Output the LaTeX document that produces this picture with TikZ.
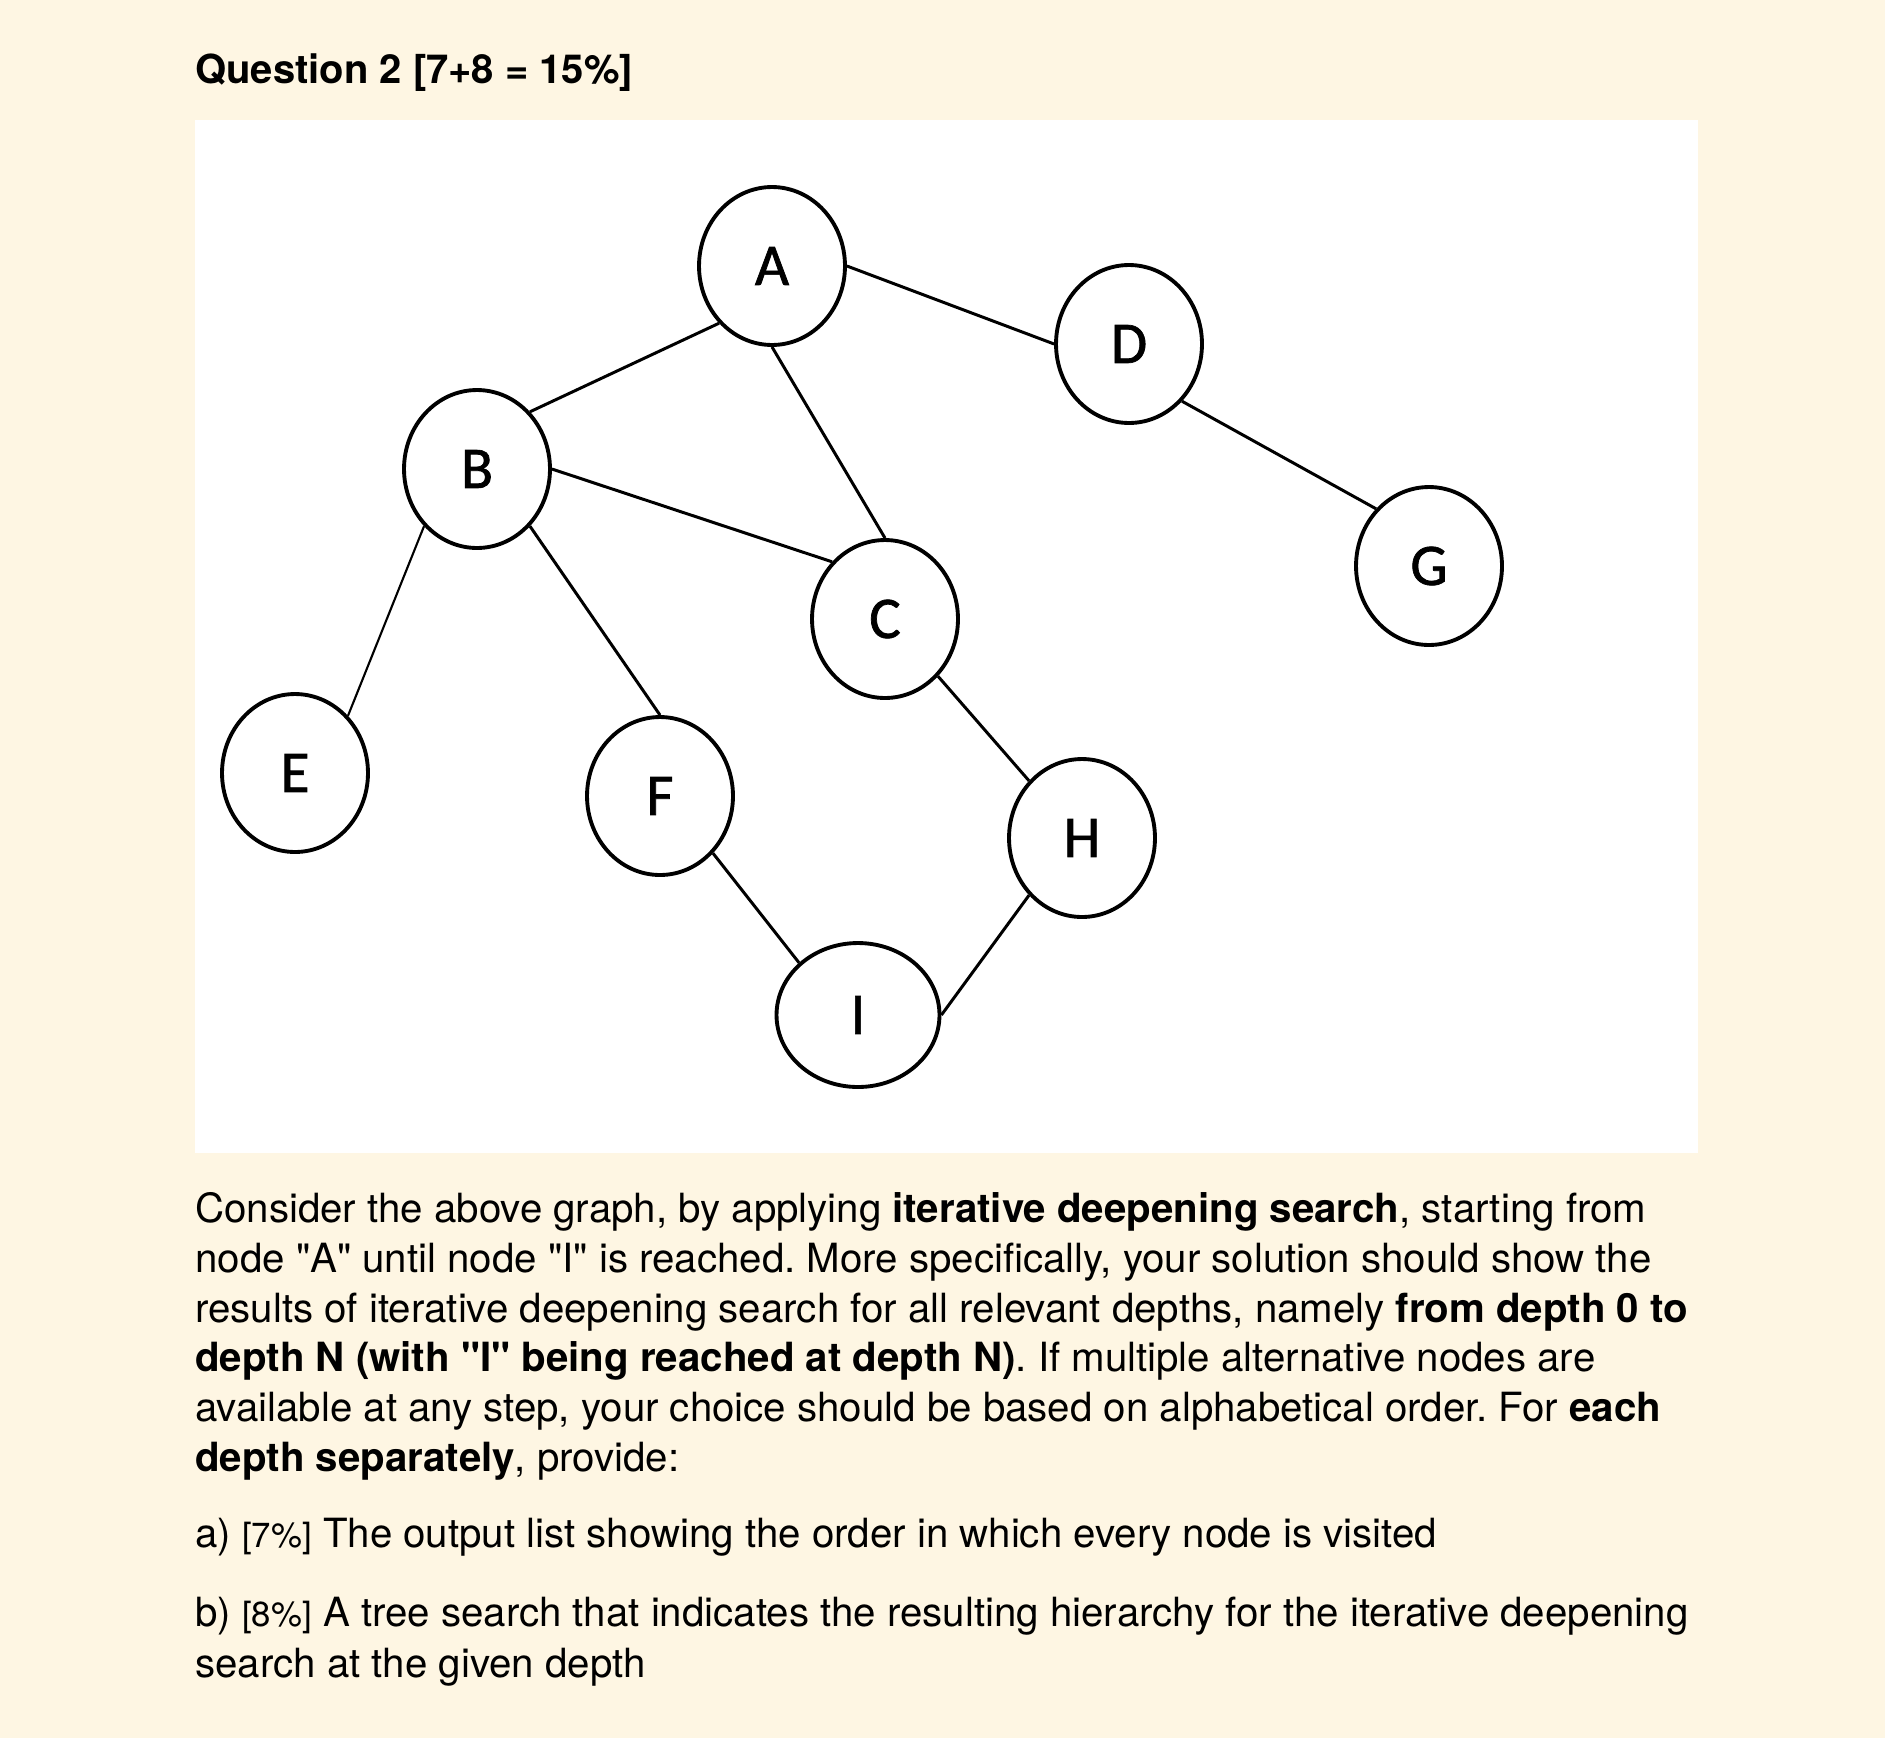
\documentclass[tikz,border=0pt]{standalone}
\usepackage{fontspec}
\setmainfont{TeX Gyre Heros}[Ligatures=TeXOff]
\newfontfamily\letterfont{Carlito}[FakeBold=1.2]
\usetikzlibrary{shapes.geometric}
\definecolor{pageC}{HTML}{FEF6E3}
\newcommand{\pct}[1]{{\fontsize{19.8}{24}\selectfont #1}}
\tikzset{
  vertex/.style={draw, ellipse, line width=2.2pt, fill=white, inner sep=0pt,
                 minimum width=2.92cm, minimum height=3.16cm,
                 font=\letterfont\fontsize{33.6}{40}\selectfont},
  edge/.style={line width=1.7pt},
  body/.style={anchor=base west, inner sep=0pt, font=\fontsize{22.9}{28.3}\selectfont},
  heading/.style={anchor=base west, inner sep=0pt, font=\bfseries\fontsize{22.75}{26}\selectfont},
}
\frenchspacing
\begin{document}
\begin{tikzpicture}[x=0.02cm, y=-0.02cm]
\fill[pageC] (0,0) rectangle (1885,1738);
\useasboundingbox (0,0) rectangle (1885,1738);
\fill[white] (195,120) rectangle (1698,1153);
\node[heading] (title) at (195,83) {Question 2 [7+8 = 15\%]};
% the graph
\node[vertex] (A) at (772,266) {A};
\node[vertex] (D) at (1129,344) {D};
\node[vertex] (B) at (477,469) {B};
\node[vertex] (G) at (1429,566) {G};
\node[vertex] (C) at (885,619) {C};
\node[vertex] (E) at (295,773) {E};
\node[vertex] (F) at (660,796) {F};
\node[vertex] (H) at (1082,838) {H};
\node[vertex, minimum width=3.26cm, minimum height=2.88cm] (I) at (858,1015) {I};
\draw[edge] (A.east) -- (D.west);
\draw[edge] (A.south west) -- (B.north east);
\draw[edge] (A.south) -- (C.north);
\draw[edge] (B.east) -- (C.north west);
\draw[edge, line width=1.2pt] (B.south west) -- (E.north east);
\draw[edge] (B.south east) -- (F.north);
\draw[edge] (D.south east) -- (G.north west);
\draw[edge] (C.south east) -- (H.north west);
\draw[edge] (F.south east) -- (I.north west);
\draw[edge] (I.east) -- (H.south west);
% the question
\node[body] (l1) at (195,1222) {Consider the above graph, by applying \textbf{iterative deepening search}, starting from};
\node[body] (l2) at (195,1272) {node "A" until node "I" is reached. More specifically, your solution should show the};
\node[body] (l3) at (195,1322) {results of iterative deepening search for all relevant depths, namely \textbf{from depth 0 to}};
\node[body] (l4) at (195,1371) {\textbf{depth N (with "I" being reached at depth N)}. If multiple alternative nodes are};
\node[body] (l5) at (195,1421) {available at any step, your choice should be based on alphabetical order. For \textbf{each}};
\node[body] (l6) at (195,1471) {\textbf{depth separately}, provide:};
\node[body] (qa) at (195,1547) {a) \pct{[7\%]} The output list showing the order in which every node is visited};
\node[body] (qb) at (195,1626) {b) \pct{[8\%]} A tree search that indicates the resulting hierarchy for the iterative deepening};
\node[body] (qb2) at (195,1677) {search at the given depth};
\end{tikzpicture}
\end{document}
